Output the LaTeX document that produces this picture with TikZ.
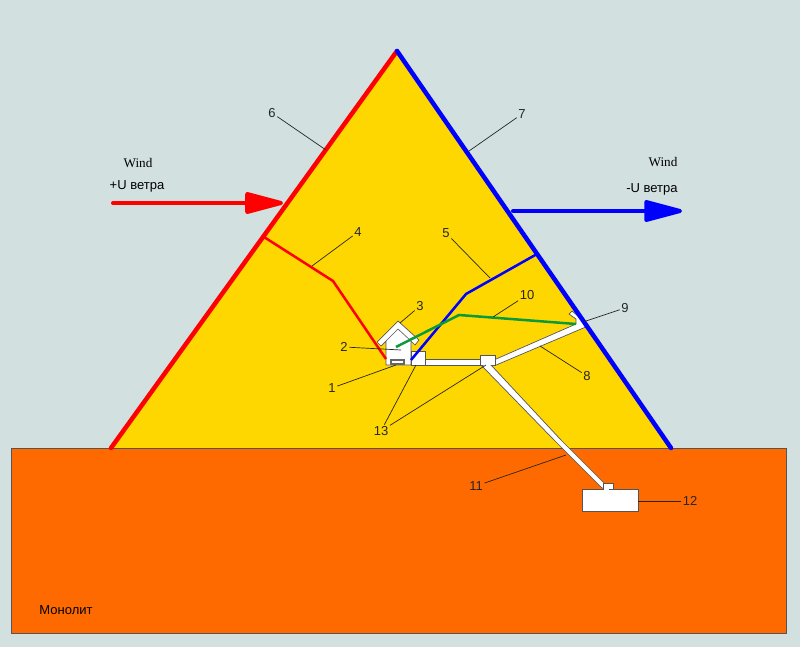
\documentclass[tikz,border=0pt]{standalone}
\usepackage{fontspec}
\setmainfont{Liberation Sans}
\newfontfamily\windfont{Liberation Serif}
\usetikzlibrary{arrows.meta}
\definecolor{skyc}{HTML}{D2E0E0}
\definecolor{rockc}{HTML}{FF6A00}
\definecolor{stonec}{HTML}{FFD700}
\definecolor{edgec}{HTML}{555555}
\definecolor{greenc}{HTML}{0A9A3C}
\begin{document}
\begin{tikzpicture}
[x=1pt, y=-1pt, font=\fontsize{13}{15}\selectfont,
room/.style={draw=edgec, fill=white, line width=0.7pt},
leader/.style={draw=black!85, line width=0.7pt},
lab/.style={inner sep=1.5pt, text=black!85},
wall/.style={line width=4.5pt, line cap=round},
duct/.style={line width=2.5pt},
windtxt/.style={font=\windfont\fontsize{13.2}{15}\selectfont},
wind/.style={line width=4pt, line cap=round, -{Triangle[round, length=44pt, width=22pt]}}]

\useasboundingbox (0,0) rectangle (800,647);
\fill[skyc] (0,0) rectangle (800,647);

% ground and pyramid
\draw[draw=edgec, fill=rockc, line width=0.7pt] (11,448) rectangle (786,633);
\fill[stonec] (111,448) -- (397,51) -- (671,448) -- cycle;
\draw[draw=edgec, line width=0.7pt] (11,448) -- (786,448);

% passages
\draw[room] (554,440) -- (602,488) -- (609,488) -- (561,440) -- (491,365) -- (481,365) -- cycle;
\draw[room] (603,489) -- (603,483) -- (613,483) -- (613,489);
\draw[room] (582,489) rectangle (638,511);
\fill[white] (604,486) rectangle (609,491);
\draw[room] (425,359.5) rectangle (480,365);
\draw[room] (495,359.5) -- (576,324) -- (576,319) -- (569,314) -- (572,311) -- (585,322) -- (587,326.5) -- (495,365.5) -- cycle;
\draw[room] (480,355) rectangle (495,365);
\fill[white] (482,364) -- (490,364) -- (491,366.5) -- (485,367) -- cycle;

% chambers
\draw[room] (398,321) -- (419,340) -- (415,345) -- (411,341) -- (411,365) -- (386,365) -- (386,341) -- (381,346) -- (377,342) -- cycle;
\draw[draw=edgec, line width=0.6pt] (386,341) -- (398,329) -- (411,341);
\draw[room] (411,351) rectangle (425,365);
\draw[draw=black!60, fill=white, line width=1.2pt] (391,360) rectangle (404,364);

% shafts
\draw[red, duct] (264,237) -- (333,281) -- (386,359);
\draw[blue, duct] (537,254) -- (466,294) -- (411,360);
\draw[greenc, duct] (396,347) -- (459,315) -- (576,324);

% faces
\draw[red, wall] (111,448) -- (397,51);
\draw[blue, wall] (397,51) -- (671,448);

% wind
\node[windtxt] (windl) at (138,163) {Wind};
\node (speedl) at (137,186) {+U ветра};
\node[windtxt] (windr) at (663,162) {Wind};
\node (speedr) at (652,189) {-U ветра};
\coordinate (inS) at (113,203);
\coordinate (inE) at (283,203);
\coordinate (outS) at (513,211);
\coordinate (outE) at (682,211);
\draw[wind, red] (inS) -- (inE);
\draw[wind, blue] (outS) -- (outE);

\node (mono) at (66,610) {Монолит};

% labels
\foreach \n/\x/\y in {1/332/388, 2/344/347, 3/420/306, 4/358/232, 5/446/233, 6/272/113,
  7/522/114, 8/587/376, 9/625/308, 10/527/295, 11/476/486, 12/690/501, 13/381/431} {
  \node[lab] (lab\n) at (\x,\y) {\n};
}

\foreach \n/\x/\y in {1/396/365, 2/401/350, 3/400/323, 4/312/266, 5/490/278, 6/326/150,
  7/469/151, 8/540/346, 9/583/322, 10/493/317, 11/566/455, 12/638/501} {
  \coordinate (end\n) at (\x,\y);
  \draw[leader] (lab\n) -- (end\n);
}
\coordinate (end13a) at (416,365);
\coordinate (end13b) at (486,365);
\draw[leader] (lab13) -- (end13a);
\draw[leader] (lab13) -- (end13b);
\end{tikzpicture}
\end{document}
